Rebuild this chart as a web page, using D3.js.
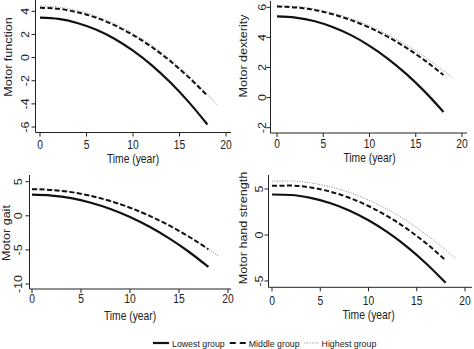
<!DOCTYPE html>
<html>
<head>
<meta charset="utf-8">
<script src="https://cdn.jsdelivr.net/npm/d3@7"></script>
<style>
body { margin: 0; background: #fff; }
text { font-family: Arial, "Liberation Sans", sans-serif; fill: #222; }
</style>
</head>
<body>
<svg id="chart" width="474" height="349"></svg>
<script>
// values, every 2 years (highest group runs to year 19)
var years = [0, 2, 4, 6, 8, 10, 12, 14, 16, 18];
var yearsLong = [0, 2, 4, 6, 8, 10, 12, 14, 16, 18, 19];
var xTicks = [0, 5, 10, 15, 20];
var groupNames = ["Lowest group", "Middle group", "Highest group"];

var functionLowest  = [3.45, 3.34, 2.99, 2.42, 1.63, 0.60, -0.65, -2.14, -3.85, -5.78];
var functionMiddle  = [4.30, 4.21, 3.92, 3.46, 2.80, 1.95, 0.92, -0.30, -1.71, -3.30];
var functionHighest = [4.45, 4.36, 4.07, 3.60, 2.94, 2.10, 1.06, -0.17, -1.58, -3.18, -4.05];
var functionTicks = [-6, -4, -2, 0, 2, 4];

var dexterityLowest  = [5.40, 5.32, 5.09, 4.69, 4.15, 3.44, 2.58, 1.56, 0.38, -0.95];
var dexterityMiddle  = [6.05, 5.99, 5.83, 5.54, 5.15, 4.65, 4.03, 3.30, 2.46, 1.50];
var dexterityHighest = [6.10, 6.05, 5.89, 5.62, 5.25, 4.77, 4.18, 3.49, 2.70, 1.79, 1.30];
var dexterityTicks = [-2, 0, 2, 4, 6];

var gaitLowest  = [3.10, 2.97, 2.58, 1.92, 1.01, -0.17, -1.61, -3.31, -5.27, -7.50];
var gaitMiddle  = [3.90, 3.79, 3.47, 2.92, 2.16, 1.18, -0.01, -1.42, -3.05, -4.90];
var gaitHighest = [3.95, 3.84, 3.51, 2.97, 2.20, 1.22, 0.02, -1.40, -3.04, -4.89, -5.90];
var gaitTicks = [-10, -5, 0, 5];

var strengthLowest  = [4.40, 4.35, 4.04, 3.48, 2.67, 1.60, 0.28, -1.29, -3.12, -5.20];
var strengthMiddle  = [5.35, 5.37, 5.16, 4.72, 4.05, 3.15, 2.02, 0.66, -0.93, -2.75];
var strengthHighest = [5.85, 5.86, 5.66, 5.25, 4.63, 3.80, 2.76, 1.50, 0.04, -1.63, -2.55];
var strengthTicks = [-5, 0, 5];

var svg = d3.select("#chart");
var STRETCH = 1.22;   // the figure is a bit taller than wide, text too
var FONT = 10.3;

function label(g, x, y, str, size, anchor, rotated, sy) {
  var tf = "translate(" + x + "," + y + ") scale(1," + (sy || STRETCH) + ")" + (rotated ? " rotate(-90)" : "");
  return g.append("text").attr("transform", tf)
    .attr("text-anchor", anchor).style("font-size", size + "px").text(str);
}

var styles = [
  {w: 2.2, dash: null, color: "#111"},
  {w: 2, dash: "5,2.5", color: "#111"},
  {w: 1, dash: "1,1.5", color: "#888"}
];

var panels = [
  {title: "Motor function", series: [functionLowest, functionMiddle, functionHighest], ticks: functionTicks,
   left: 35.5, bottom: 132.5, top: 0, right: 231, x0: 40, x20: 226, yDom: [-6, 4], yRange: [127, 11.3],
   xLab: 149, xTitle: 163, yLab: 28.8, yTitle: 11.7, yTitleY: 57},
  {title: "Motor dexterity", series: [dexterityLowest, dexterityMiddle, dexterityHighest], ticks: dexterityTicks,
   left: 270.5, bottom: 133, top: 1, right: 467, x0: 277, x20: 462, yDom: [-2, 6], yRange: [127.7, 7.3],
   xLab: 148.2, xTitle: 161.5, yLab: 265.8, yTitle: 246.5, yTitleY: 56},
  {title: "Motor gait", series: [gaitLowest, gaitMiddle, gaitHighest], ticks: gaitTicks,
   left: 29.5, bottom: 289, top: 175, right: 231, x0: 32, x20: 228, yDom: [-10, 5], yRange: [284, 181.7],
   xLab: 302.5, xTitle: 320, yLab: 22, yTitle: 9.7, yTitleY: 233},
  {title: "Motor hand strength", series: [strengthLowest, strengthMiddle, strengthHighest], ticks: strengthTicks,
   left: 268.5, bottom: 287.3, top: 175, right: 472, x0: 272, x20: 465, yDom: [-5, 5], yRange: [281, 189],
   xLab: 305, xTitle: 319, yLab: 262.8, yTitle: 246.5, yTitleY: 228}
];

panels.forEach(function(p) {
  var g = svg.append("g");
  var x = d3.scaleLinear().domain([0, 20]).range([p.x0, p.x20]);
  var y = d3.scaleLinear().domain(p.yDom).range(p.yRange);

  // axis lines
  g.append("path")
    .attr("d", "M" + p.left + "," + p.top + "V" + p.bottom + "H" + p.right)
    .attr("fill", "none").attr("stroke", "#222").attr("stroke-width", 1);

  // x ticks
  xTicks.forEach(function(t) {
    g.append("line").attr("x1", x(t)).attr("x2", x(t))
      .attr("y1", p.bottom).attr("y2", p.bottom + 4)
      .attr("stroke", "#222");
    label(g, x(t), p.xLab, t, FONT, "middle", false);
  });
  label(g, (p.x0 + p.x20) / 2, p.xTitle, "Time (year)", FONT, "middle", false);

  // y ticks
  p.ticks.forEach(function(v) {
    g.append("line").attr("x1", p.left - 4).attr("x2", p.left)
      .attr("y1", y(v)).attr("y2", y(v))
      .attr("stroke", "#222");
    label(g, p.yLab, y(v), v, FONT, "middle", true);
  });
  label(g, p.yTitle, p.yTitleY, p.title, FONT, "middle", true);

  var line = d3.line()
    .x(function(d) { return x(d[0]); })
    .y(function(d) { return y(d[1]); })
    .curve(d3.curveMonotoneX);

  // draw highest first so dashed / solid sit on top
  [2, 1, 0].forEach(function(k) {
    var xs = p.series[k].length === yearsLong.length ? yearsLong : years;
    var pts = p.series[k].map(function(v, i) { return [xs[i], v]; });
    var s = styles[k];
    g.append("path").datum(pts)
      .attr("d", line)
      .attr("fill", "none")
      .attr("stroke", s.color)
      .attr("stroke-width", s.w)
      .attr("stroke-dasharray", s.dash);
  });
});

// legend
var lg = svg.append("g");
var lx = 153, ly = 343;
groupNames.forEach(function(name, k) {
  var s = styles[k];
  var len = k === 2 ? 14 : 16;
  lg.append("line").attr("x1", lx).attr("x2", lx + len)
    .attr("y1", ly).attr("y2", ly)
    .attr("stroke", s.color).attr("stroke-width", s.w)
    .attr("stroke-dasharray", k === 1 ? "6,4" : s.dash);
  var t = label(lg, lx + len + 3, ly + 3.5, name, 8.8, "start", false, 1.12);
  lx += len + 3 + t.node().getComputedTextLength() + 5;
});
</script>
</body>
</html>
